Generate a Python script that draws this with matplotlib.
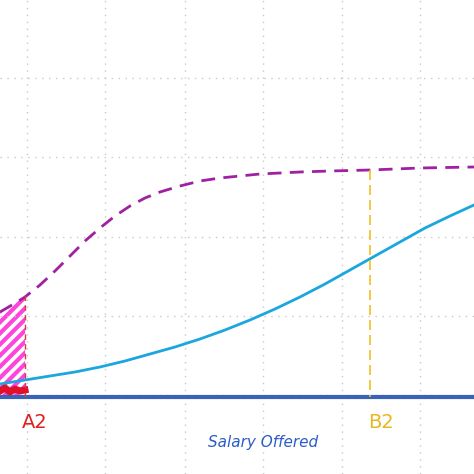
import numpy as np
import matplotlib
matplotlib.use("Agg")
import matplotlib.pyplot as plt

# values, in image pixel units (y grows downward)
grid_x = [27, 105, 185, 263, 342, 420]
grid_y = [78, 157, 237, 316, 395]
dash_x = [0, 12, 25, 40, 55, 70, 85, 100, 115, 130, 145, 160, 180, 200, 220, 240,
          260, 280, 300, 330, 370, 420, 474]
dash_y = [312, 305, 297, 285, 271, 256, 241, 228, 216, 206, 198, 192, 186, 181,
          178, 176, 174, 173, 172, 171, 170, 168, 167]
solid_x = [0, 25, 50, 75, 100, 125, 150, 175, 200, 225, 250, 275, 300, 325, 350,
           375, 400, 425, 450, 474]
solid_y = [384, 380, 376, 372, 367, 361, 354, 347, 339, 330, 320, 309, 297, 284,
           270, 256, 242, 228, 216, 205]
base_y = 397
a2_x, b2_x = 25, 370

fig = plt.figure(figsize=(4.74, 4.74), dpi=100)
ax = fig.add_axes([0, 0, 1, 1])
ax.set_xlim(0, 474); ax.set_ylim(474, 0); ax.axis("off")
for x in grid_x: ax.axvline(x, color="#c8c8c8", ls=(0, (1, 4)), lw=1)
for y in grid_y: ax.axhline(y, color="#c8c8c8", ls=(0, (1, 4)), lw=1)

plt.rcParams["hatch.linewidth"] = 3
ax.fill_between([0, a2_x], [dash_y[0], dash_y[2]], base_y, facecolor="none",
                edgecolor="#ff44dd", hatch="///", lw=0)
ax.plot(dash_x, dash_y, color="#a020a0", ls=(0, (5, 3)), lw=2)
ax.plot(solid_x, solid_y, color="#1aa6de", lw=2)
ax.axhline(base_y, color="#3a63b8", lw=3)
ax.plot([0, 5, 10, 15, 20, 25], [391, 388, 392, 389, 391, 390], color="#e0102a", lw=5)
ax.plot([a2_x, a2_x], [295, base_y], color="#d04040", ls=(0, (4, 3)), lw=1)
ax.plot([b2_x, b2_x], [170, base_y], color="#f0c020", ls=(0, (6, 3)), lw=1.2)

ax.text(35, 422, "A2", color="#e02020", fontsize=14, ha="center", va="center")
ax.text(381, 422, "B2", color="#e8b820", fontsize=14, ha="center", va="center")
ax.text(263, 443, "Salary Offered", color="#2b5cc8", fontsize=11, style="italic",
        ha="center", va="center")
fig.savefig("out.png", dpi=100)
